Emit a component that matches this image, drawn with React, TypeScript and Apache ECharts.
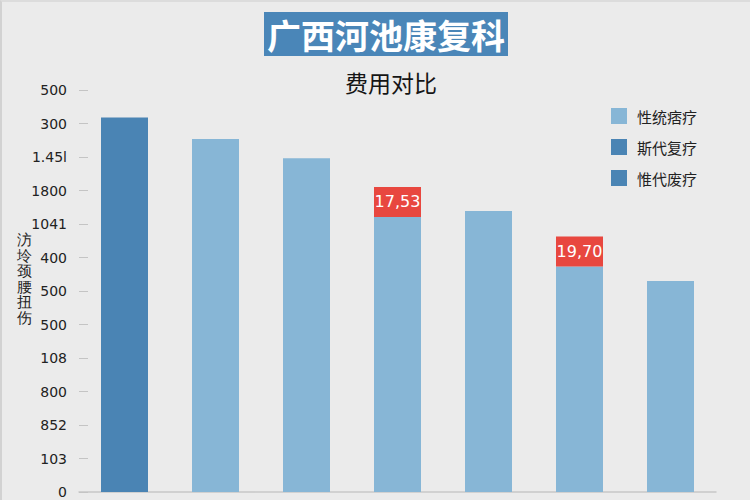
import { useEffect, useRef } from 'react';
import * as echarts from 'echarts';

// data
const categories = ['项目一', '项目二', '项目三', '项目四', '项目五', '项目六', '项目七'];
const lightValues = [null, 1054, 996, 821, 839, 673, 630];
const darkValues = [1118, null, null, null, null, null, null];
const thirdValues = [null, null, null, null, null, null, null];
const barLabels = ['', '', '', '17,53', '', '19,70', ''];
// tick labels from the bottom (0) to the top, one per 100
const yTickLabels = ['0', '103', '852', '800', '108', '500', '500', '400', '1041', '1800', '1.45l', '300', '500'];
const legendNames = ['性统痞疗', '斯代复疗', '惟代废疗'];
const yAxisName = '汸坽颈腰扭伤';

const FONT = '"Noto Sans CJK SC", "DejaVu Sans", sans-serif';

export default function App() {
  const chartRef = useRef<HTMLDivElement>(null);

  useEffect(() => {
    document.body.style.margin = '0';
    if (!chartRef.current) return;
    const chart = echarts.init(chartRef.current, null, { renderer: 'svg' });

    const light = '#87b6d6';
    const dark = '#4a84b4';

    const lightData = lightValues.map((v, i) =>
      barLabels[i]
        ? {
            value: v,
            label: {
              show: true,
              position: 'top' as const,
              distance: 0,
              formatter: barLabels[i],
              backgroundColor: '#e8473f',
              color: '#fff',
              fontSize: 16,
              fontFamily: '"DejaVu Sans", sans-serif',
              width: 47,
              height: 30,
              lineHeight: 30,
              align: 'center' as const
            }
          }
        : v
    );

    const option: echarts.EChartsOption = {
      animation: false,
      backgroundColor: '#ebebeb',
      textStyle: { fontFamily: FONT },
      title: [
        {
          text: '广西河池康复科',
          left: 264,
          top: 12,
          padding: [3, 3, 3, 3],
          backgroundColor: '#4a86b8',
          textStyle: { color: '#fff', fontSize: 34, fontWeight: 'bold', fontFamily: FONT, lineHeight: 38 }
        },
        {
          text: '费用对比',
          left: 340,
          top: 65,
          textStyle: { color: '#151515', fontSize: 23, fontWeight: 'normal', fontFamily: FONT }
        }
      ],
      legend: {
        orient: 'vertical',
        left: 606,
        top: 103,
        itemWidth: 16,
        itemHeight: 16,
        itemGap: 15,
        icon: 'rect',
        data: legendNames,
        textStyle: { fontSize: 15, color: '#222', fontFamily: FONT, padding: [0, 0, 0, 5] }
      },
      graphic: [
        {
          type: 'text',
          left: 17,
          top: 232,
          style: {
            text: yAxisName.split('').join('\n'),
            fontSize: 15,
            lineHeight: 15.5,
            fill: '#222',
            font: `15px ${FONT}`
          }
        }
      ],
      grid: { left: 79, right: 34, top: 90, bottom: 8 },
      xAxis: {
        type: 'category',
        data: categories,
        axisLine: { lineStyle: { color: '#c8c8c8', width: 1.5 } },
        axisTick: { show: false },
        axisLabel: { show: false }
      },
      yAxis: {
        type: 'value',
        min: 0,
        max: 1200,
        interval: 100,
        axisLine: { show: false },
        axisTick: { show: true, inside: true, length: 9, lineStyle: { color: '#c4c4c4' } },
        splitLine: { show: false },
        axisLabel: {
          margin: 12,
          fontSize: 14,
          color: '#222',
          fontFamily: '"DejaVu Sans", sans-serif',
          formatter: (v: number) => yTickLabels[Math.round(v / 100)] ?? ''
        }
      },
      series: [
        {
          name: legendNames[0],
          type: 'bar',
          stack: 'all',
          barWidth: 47,
          data: lightData as any,
          itemStyle: { color: light }
        },
        {
          name: legendNames[1],
          type: 'bar',
          stack: 'all',
          barWidth: 47,
          data: darkValues,
          itemStyle: { color: dark }
        },
        {
          name: legendNames[2],
          type: 'bar',
          stack: 'all',
          barWidth: 47,
          data: thirdValues,
          itemStyle: { color: dark }
        }
      ]
    };

    chart.setOption(option);
    return () => chart.dispose();
  }, []);

  return (
    <div style={{ width: 750, height: 500, position: 'relative' }}>
      <div ref={chartRef} style={{ width: 750, height: 500 }} />
      <div style={{ position: 'absolute', left: 0, top: 0, width: 750, height: 500, boxSizing: 'border-box', borderLeft: '2px solid #d2d2d2', borderTop: '2px solid #dcdcdc', pointerEvents: 'none' }} />
    </div>
  );
}
